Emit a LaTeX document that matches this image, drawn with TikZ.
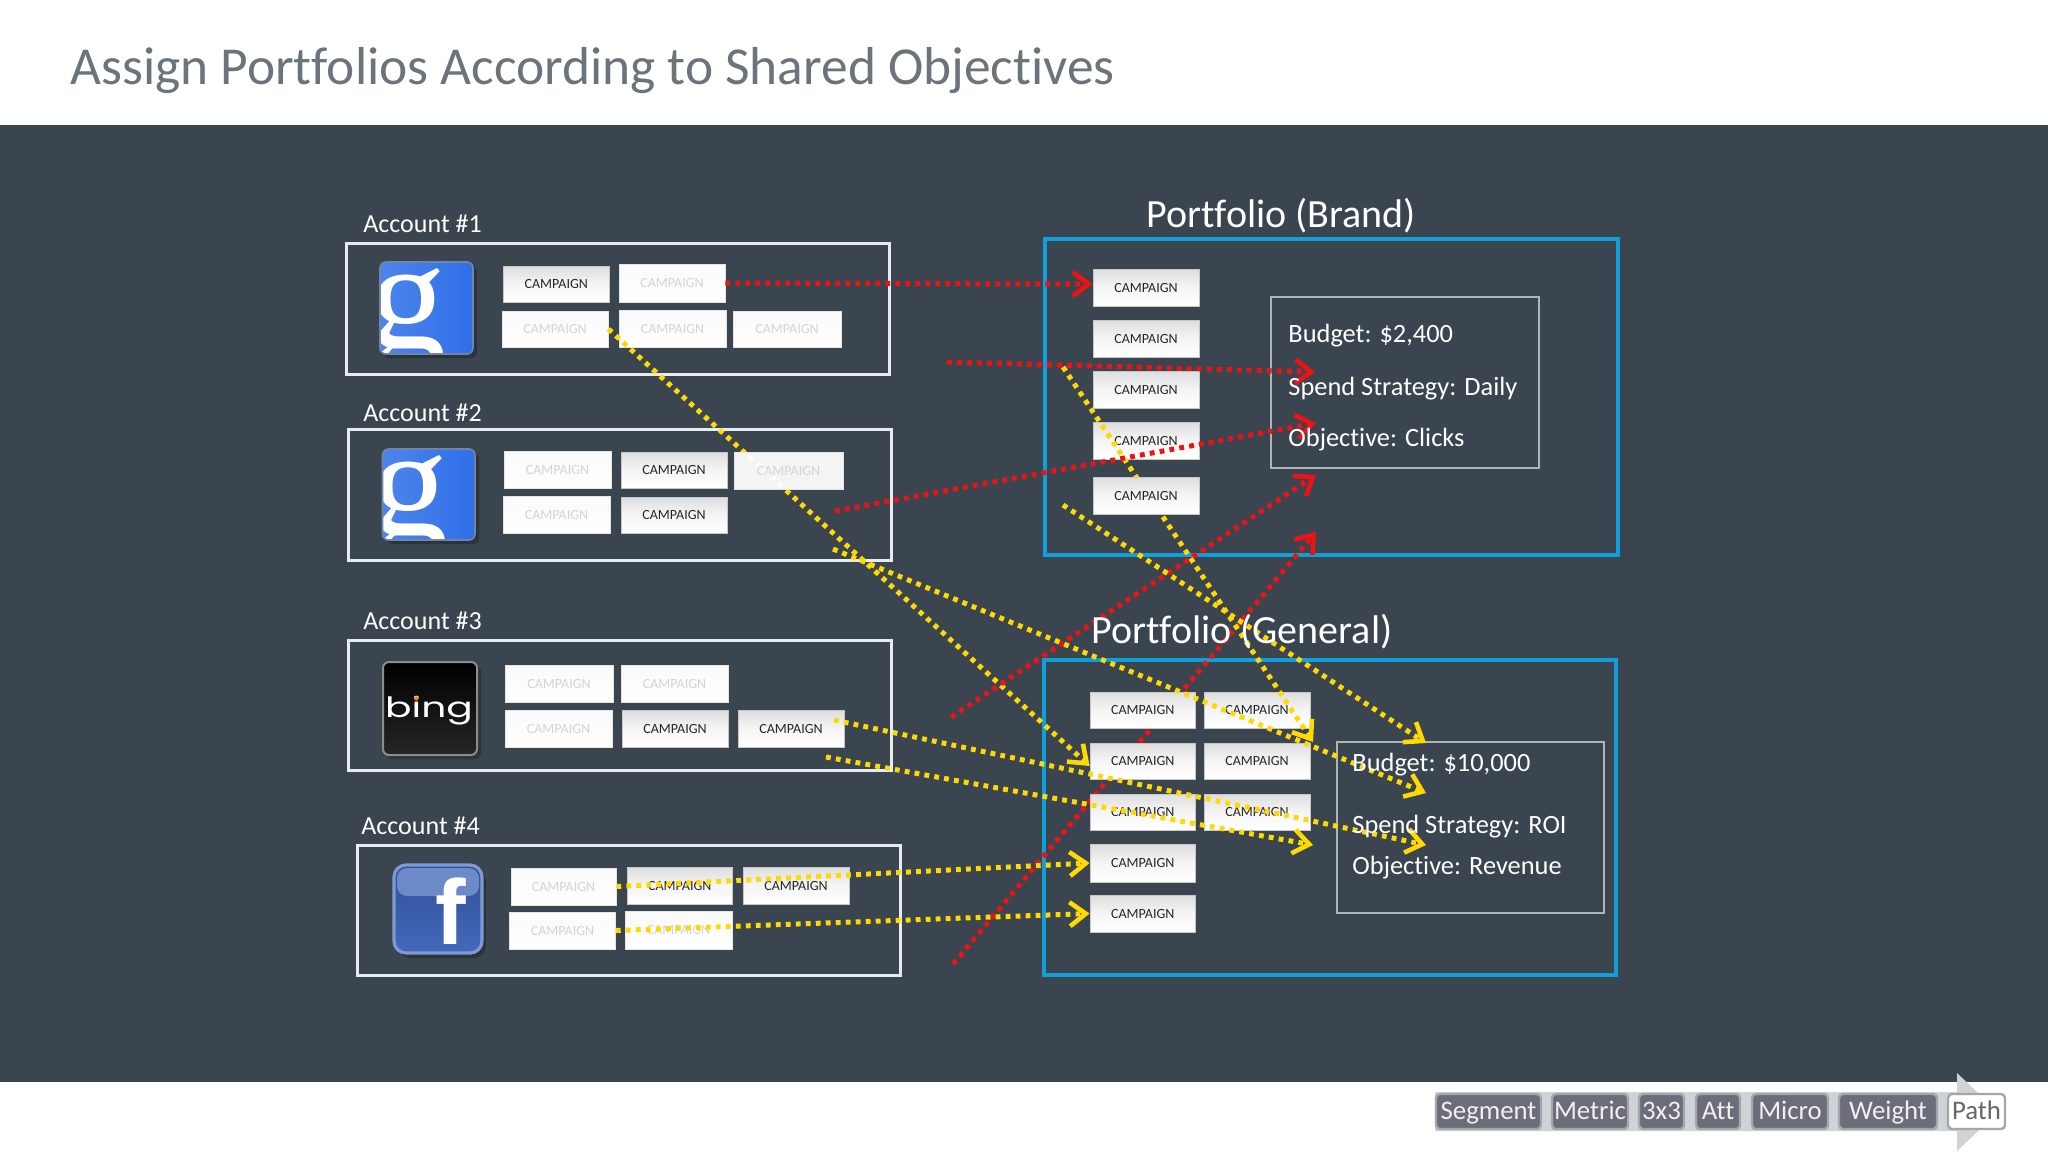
\documentclass[tikz,border=0pt]{standalone}
\usepackage{fontspec}
\usepackage{graphicx}
\setmainfont[Ligatures=NoCommon]{Carlito}
\newfontfamily\gfont{Liberation Serif}
\newfontfamily\fbfont{Liberation Sans}
\newfontfamily\bingfont{Poppins}
\usetikzlibrary{arrows.meta}
\definecolor{slatebg}{HTML}{3A4550}
\definecolor{titlegray}{HTML}{6C747B}
\definecolor{boxline}{HTML}{E6EBEF}
\definecolor{portblue}{HTML}{0FA0DC}
\definecolor{arrowred}{HTML}{EE1212}
\definecolor{arrowyel}{HTML}{FFD900}
\definecolor{navband}{HTML}{CFD3D6}
\definecolor{navedge}{HTML}{A3A7AB}
\definecolor{navfill}{HTML}{6B6E78}
\definecolor{gblue}{HTML}{2E6FE8}
\definecolor{fbtop}{HTML}{6C8AC8}
\definecolor{fbmid}{HTML}{2F5099}
\definecolor{fbbot}{HTML}{4468BC}
\definecolor{fbedge}{HTML}{7F9AD2}
\tikzset{
 acctbox/.style={draw=boxline,line width=1.5pt},
 portbox/.style={draw=portblue,line width=2pt},
 infobox/.style={draw=white!60!slatebg,line width=0.6pt},
 acctlabel/.style={anchor=base west,inner sep=0,text=white,font=\fontsize{13}{15}\selectfont},
 porttitle/.style={anchor=base west,inner sep=0,text=white,font=\fontsize{20}{24}\selectfont},
 infotext/.style={anchor=base west,inner sep=0,text=white,font=\fontsize{13.2}{16}\selectfont},
 campbase/.style={inner sep=0,line width=0.4pt,font=\fontsize{7}{8}\selectfont},
 campon/.style={campbase,draw=black!22,top color=black!13,bottom color=white,middle color=white!96!black,text=black!85},
 campoff/.style={campbase,draw=black!10,top color=white!98!black,bottom color=white,text=black!17},
 campveil/.style={campbase,draw=black!10,fill=white,fill opacity=.94,text opacity=1,text=black!17},
 redarrow/.style={draw=arrowred,line width=2.5pt,dash pattern=on 2.4pt off 2.6pt,
   -{Straight Barb[length=8pt,width=12pt,line width=2.3pt]}},
 yelarrow/.style={draw=arrowyel,line width=2.5pt,dash pattern=on 2.4pt off 2.6pt,
   -{Straight Barb[length=8pt,width=12pt,line width=2.3pt]}},
 navbtn/.style={draw=navedge,fill=navfill,rounded corners=2pt,line width=1.2pt,inner sep=0,text height=9.2pt,text depth=1.2pt,text=white!90!navfill,font=\fontsize{13.4}{16}\selectfont},
 navcur/.style={navbtn,fill=white,text=black!60},
}
\newcommand{\camp}[6]{\node[#6,minimum width={(#4-#2)*0.5pt},minimum height={(#5-#3)*0.5pt}] (#1) at ({(#2+#4)/2},{(#3+#5)/2}) {CAMPAIGN};}
\newcommand{\navb}[5]{\node[#5,minimum width={(#3-#2)*0.5pt},minimum height=17.5pt] (#1) at ({(#2+#3)/2},1111.5) {#4};}
\newcommand{\glogo}[6]{%
 \fill[black,opacity=.25,rounded corners=3pt] (#2+4,#3+4) rectangle (#4+4,#5+4);
 \begin{scope}
 \clip[rounded corners=3pt] (#2,#3) rectangle (#4,#5);
 \shade[left color=#6!85!white,right color=#6] (#2,#3) rectangle (#4,#5);
 \node[anchor=base west,inner sep=0,text=white,font=\gfont\fontsize{78}{78}\selectfont] (#1) at (#2-12,#3+86) {g};
 \end{scope}
 \draw[white!55!#6!70!black,line width=.8pt,rounded corners=3pt] (#2,#3) rectangle (#4,#5);}
\begin{document}
\begin{tikzpicture}[x=0.5pt,y=-0.5pt]
\useasboundingbox (0,0) rectangle (2048,1152);
\fill[white] (0,0) rectangle (2048,1152);
\fill[slatebg] (0,124.5) rectangle (2048,1082);
\node[anchor=base west,inner sep=0,text=titlegray,font=\fontsize{26.7}{30}\selectfont] (title) at (70,84) {Assign Portfolios According to Shared Objectives};
% account frames
\draw[acctbox] (346,243) rectangle (889,374);
\draw[acctbox] (348,429) rectangle (891,560);
\draw[acctbox] (348,640) rectangle (891,770);
\draw[acctbox] (357,845) rectangle (900,975);
\node[acctlabel] (l1) at (363,232) {Account \#1};
\node[acctlabel] (l2) at (363,421) {Account \#2};
\node[acctlabel] (l3) at (363,629) {Account \#3};
\node[acctlabel] (l4) at (361,834) {Account \#4};
% logos
\glogo{gg1}{380}{262}{473}{354}{gblue}
\glogo{gg2}{382.5}{449}{475}{540}{gblue}
\fill[black,opacity=.25,rounded corners=3pt] (387,666) rectangle (481,759);
\shade[top color=black,bottom color=black!85!white,draw=black!45!white,line width=1pt,rounded corners=3pt] (383,662) rectangle (477,755);
\node[anchor=base,inner sep=0,text=white,font=\bingfont\fontsize{14}{16}\selectfont] (bing) at (429,717) {\scalebox{1.4}[1]{bing}};
\fill[orange] (416.3,698.5) circle (2.2);
\fill[black,opacity=.25,rounded corners=6pt] (398,870) rectangle (486,958);
\shade[top color=fbmid,bottom color=fbbot,draw=fbedge,line width=1.6pt,rounded corners=6pt] (394,865) rectangle (482,953);
\fill[fbtop,rounded corners=5pt] (397,868) rectangle (479,896);
\node[anchor=base,inner sep=0,text=white,font=\fbfont\bfseries\fontsize{46}{46}\selectfont] (fb) at (451,944) {f};
% portfolio frames
\draw[portbox] (1045,239) rectangle (1618,555);
\draw[portbox] (1044,660) rectangle (1616,975);
\draw[infobox] (1271,297) rectangle (1539,468);
\draw[infobox] (1337,742) rectangle (1604,913);
% red line that runs beneath the General campaigns
\coordinate (r5s) at (953,964);
\coordinate (r5e) at (1316,532);
\draw[redarrow] (r5s) -- (r5e);
% account campaigns
\camp{a1a}{503.5}{266}{609}{302}{campon}
\camp{a1b}{619}{264}{725}{302}{campoff}
\camp{a1c}{502}{311}{608}{347}{campoff}
\camp{a1d}{619}{310}{726}{347}{campoff}
\camp{a1e}{733}{311}{841}{347}{campoff}
\camp{a2a}{504}{451}{611}{488}{campoff}
\camp{a2b}{621}{452}{727}{488}{campon}
\camp{a2d}{503}{496}{610}{533}{campoff}
\camp{a2e}{621}{497}{727}{533}{campon}
\camp{a3a}{505}{665}{613}{702}{campoff}
\camp{a3b}{621}{665}{728}{702}{campoff}
\camp{a3c}{505}{710}{612}{747}{campoff}
\camp{a3d}{622}{710}{728}{747}{campon}
\camp{a3e}{738}{710}{844}{747}{campon}
\camp{a4a}{511}{868}{616}{905}{campoff}
\camp{a4b}{627}{867}{732.5}{904}{campon}
\camp{a4c}{743}{867}{849}{904}{campon}
\camp{a4d}{509.5}{912}{615.5}{949}{campoff}
\camp{a4e}{625}{911}{732}{949}{campoff}
% portfolio campaigns
\camp{b1}{1093}{269}{1199}{306}{campon}
\camp{b2}{1093}{320}{1199}{357}{campon}
\camp{b3}{1093}{371}{1199}{408}{campon}
\camp{b4}{1093}{422}{1199}{459}{campon}
\camp{g1}{1090}{692}{1195.5}{728}{campon}
\camp{g2}{1090}{743}{1195.5}{779}{campon}
\camp{g3}{1090}{794}{1195.5}{830}{campon}
\camp{g4}{1090}{844}{1195.5}{882}{campon}
\camp{g5}{1090}{895}{1195.5}{932}{campon}
\camp{h1}{1204}{692}{1310}{728}{campon}
\camp{h2}{1204}{743}{1310}{779}{campon}
\camp{h3}{1204}{794}{1310}{830}{campon}
% free ends
\coordinate (r2s) at (947,362);
\coordinate (r2e) at (1315,372);
\coordinate (r3s) at (835,511);
\coordinate (r3e) at (1316,423);
\coordinate (r4s) at (951,717);
\coordinate (r4e) at (1316,475);
\coordinate (y2s) at (1063,367);
\coordinate (y2e) at (1313,742);
\coordinate (y3s) at (1063,505);
\coordinate (y3e) at (1426,743);
\coordinate (y4s) at (833,549);
\coordinate (y4e) at (1426,793);
\coordinate (y5s) at (834,720);
\coordinate (y5e) at (1426,845);
\coordinate (y6s) at (826,757);
\coordinate (y6e) at (1313,845);
% arrows that pass under later boxes
\draw[yelarrow] (a1c.east) -- ([yshift=-2.5pt]g2.west);
\draw[yelarrow] (y2s) -- (y2e);
\camp{b5}{1093}{477}{1199}{514}{campon}
\camp{a2c}{734}{452}{843}{489}{campveil}
% remaining arrows
\draw[redarrow] (a1b.east) -- ([yshift=1.7pt]b1.west);
\draw[redarrow] (r2s) -- (r2e);
\draw[redarrow] (r3s) -- (r3e);
\draw[redarrow] (r4s) -- (r4e);
\draw[yelarrow] (y3s) -- (y3e);
\draw[yelarrow] (y4s) -- (y4e);
\draw[yelarrow] (y5s) -- (y5e);
\draw[yelarrow] (y6s) -- (y6e);
\draw[yelarrow] (a4a.east) -- (g4.west);
\draw[yelarrow] (a4d.east) -- (g5.west);
% text on top
\node[porttitle] (pb) at (1146,227) {Portfolio (Brand)};
\node[porttitle] (pg) at (1091,643) {Portfolio (General)};
\node[infotext] (i1) at (1288,342) {Budget: \$2,400};
\node[infotext] (i2) at (1288,395) {Spend Strategy: Daily};
\node[infotext] (i3) at (1288,446) {Objective: Clicks};
\node[infotext] (j1) at (1352,771) {Budget: \$10,000};
\node[infotext] (j2) at (1352,833) {Spend Strategy: ROI};
\node[infotext] (j3) at (1352,874) {Objective: Revenue};
% navigation strip
\fill[navband] (1435,1092) -- (1957,1092) -- (1957,1073) -- (1998,1112) -- (1957,1151) -- (1957,1131) -- (1435,1131) -- cycle;
\navb{n1}{1436}{1541}{Segment}{navbtn}
\navb{n2}{1552}{1628}{Metric}{navbtn}
\navb{n3}{1639}{1684}{3x3}{navbtn}
\navb{n4}{1696}{1740}{Att}{navbtn}
\navb{n5}{1752}{1828}{Micro}{navbtn}
\navb{n6}{1839}{1937}{Weight}{navbtn}
\navb{n7}{1948}{2005}{Path}{navcur}
\end{tikzpicture}
\end{document}
